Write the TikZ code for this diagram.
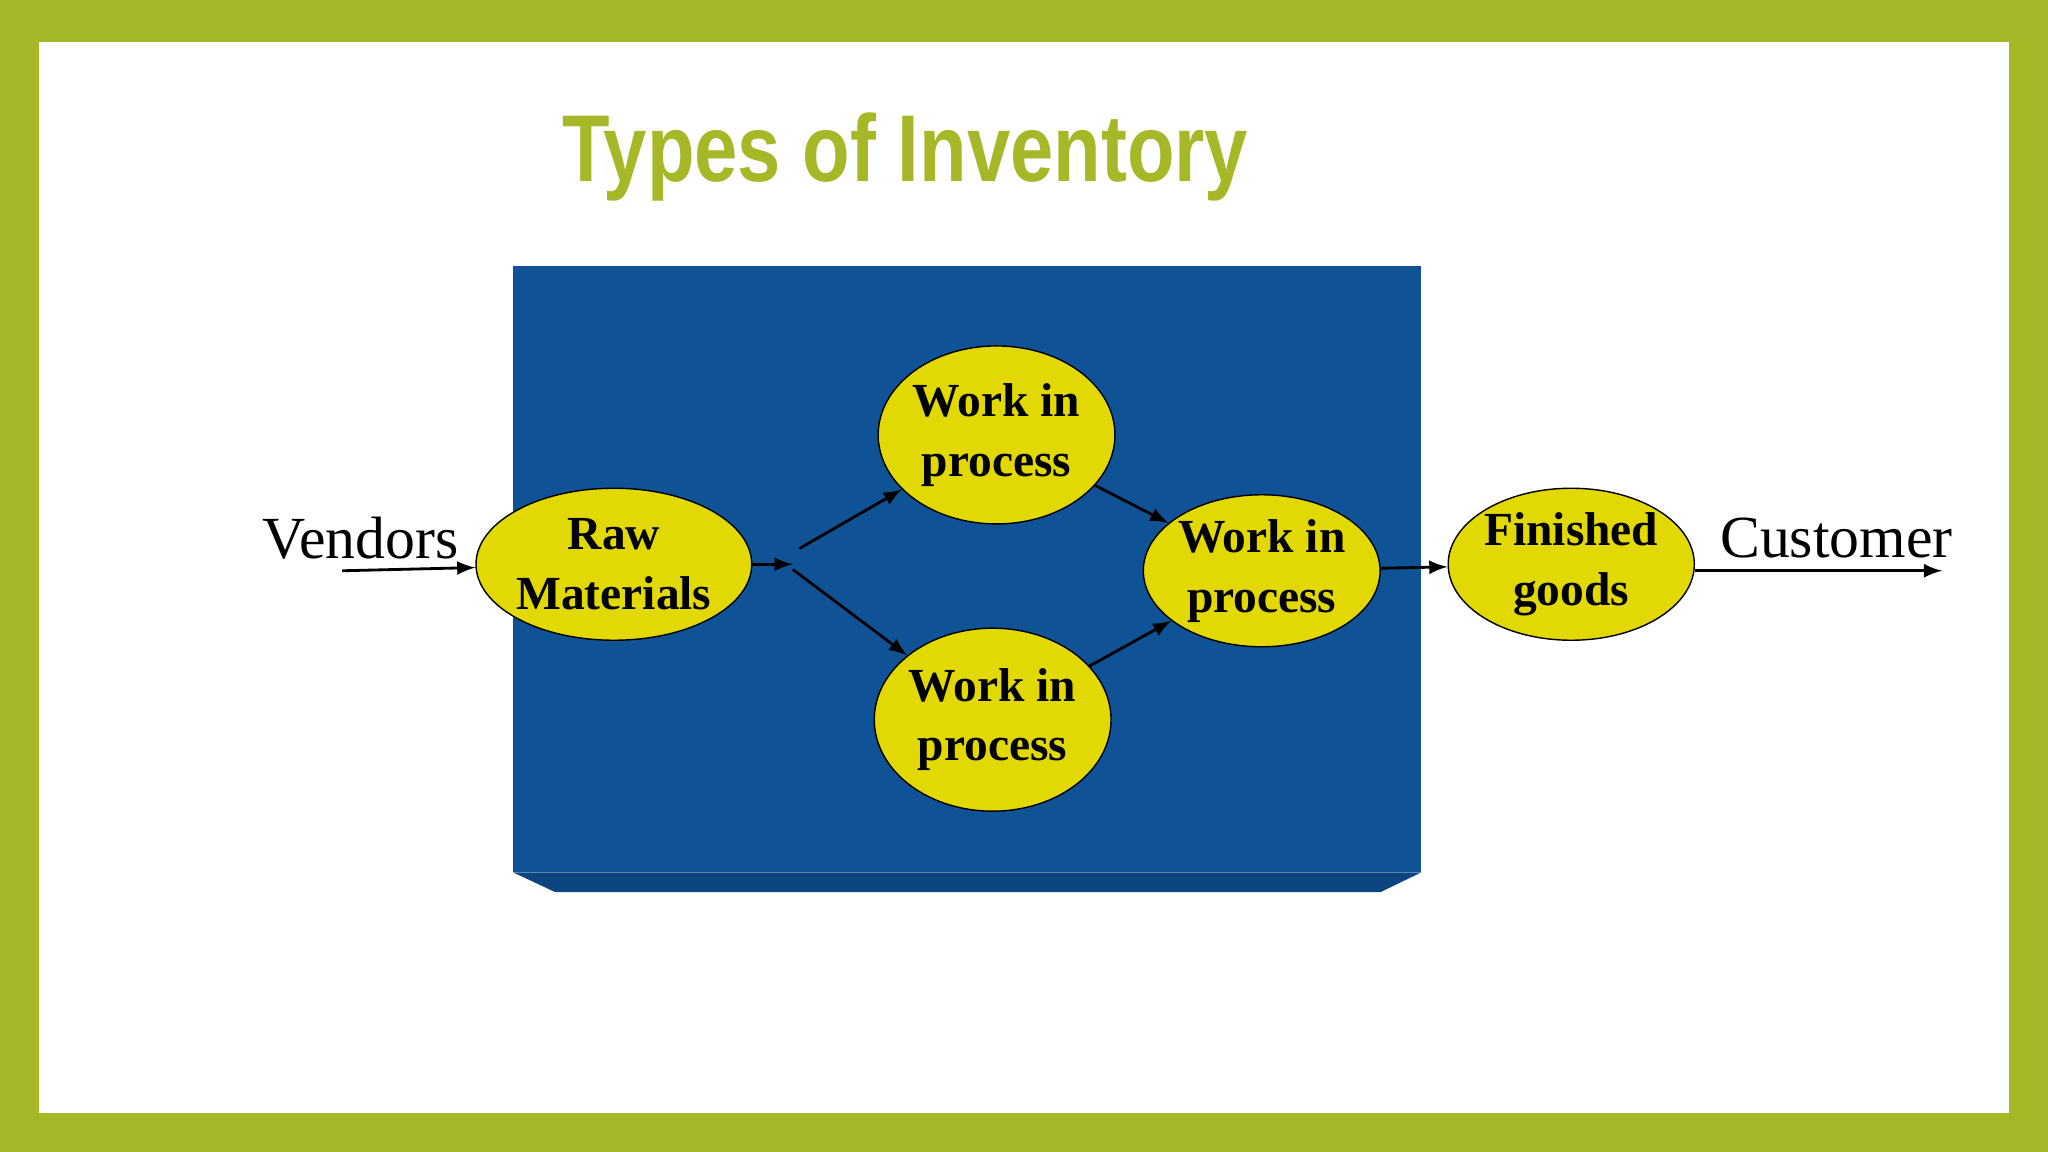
\documentclass[tikz,border=0pt]{standalone}
\usetikzlibrary{shapes.geometric}
\usepackage{fontspec}
\setmainfont{Liberation Serif}
\newfontfamily\titlefont{Liberation Sans}
\definecolor{frame}{HTML}{A6B828}
\definecolor{panel}{HTML}{0F5396}
\definecolor{panelb}{HTML}{0C457F}
\definecolor{disk}{HTML}{E1D804}
\begin{document}
\begin{tikzpicture}[>=latex, x=0.01306cm, y=-0.01306cm]
	\tikzset{
		stage/.style={ellipse, draw=black, fill=disk, minimum width=1.78cm, minimum height=1.52cm,
			inner sep=0pt, align=center, font=\fontsize{13.5}{17}\selectfont\bfseries},
		flow/.style={->, thick}
	}
	\fill[frame] (0,0) rectangle (1568,882);
	\fill[white] (30,32) rectangle (1538,852);

	\node[text=frame, font=\titlefont\fontsize{27}{30}\selectfont\bfseries, xscale=0.82]
	(title) at (693,120) {Types of Inventory};

	\fill[panelb] (393,668) -- (425,683) -- (1057,683) -- (1088,668) -- cycle;
	\fill[panel] (393,204) rectangle (1088,668);

	\node[stage] (raw) at (470,432) {Raw\\Materials};
	\node[stage, minimum height=1.78cm] (wipa) at (763,333) {Work in\\process};
	\node[stage, minimum height=1.83cm] (wipb) at (760,551) {Work in\\process};
	\node[stage] (wipc) at (966,437) {Work in\\process};
	\node[stage] (fin) at (1203,432) {Finished\\goods};

	\node[font=\fontsize{17}{20}\selectfont] (vend) at (276,412) {Vendors};
	\node[font=\fontsize{17}{20}\selectfont] (cust) at (1406,412) {Customer};

	\coordinate (vin) at (262,437);
	\coordinate (split) at (607,432);
	\coordinate (cout) at (1487,437);

	\draw[flow] (vin) -- (raw);
	\draw[flow] (raw) -- (split);
	\draw[flow] (612,420) -- (wipa);
	\draw[flow] (607,436) -- (wipb);
	\draw[flow] (wipa) -- (wipc);
	\draw[flow] (wipb) -- (wipc);
	\draw[flow] (wipc) -- (fin);
	\draw[flow] (fin.east |- cout) -- (cout);
\end{tikzpicture}
\end{document}
